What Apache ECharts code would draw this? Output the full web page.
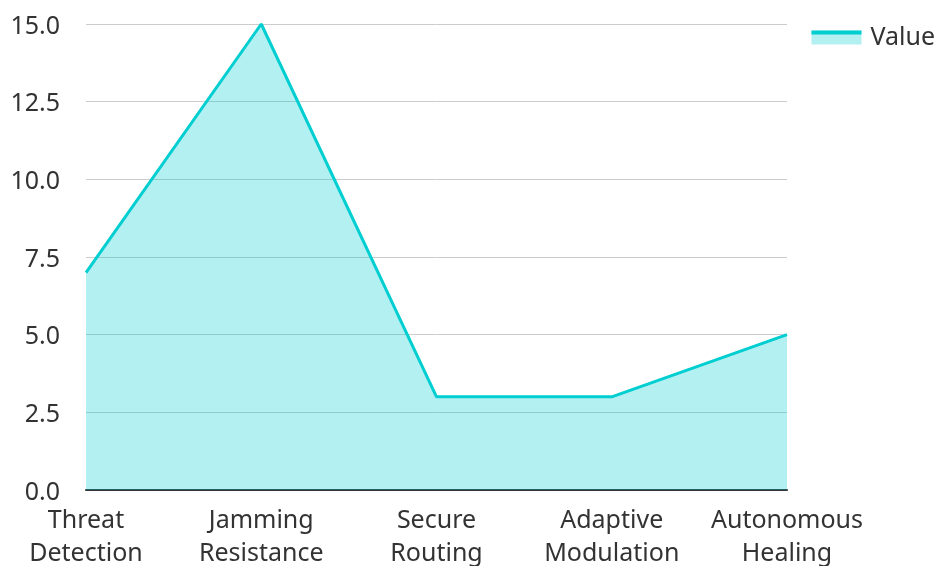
<!DOCTYPE html>
<html>
<head>
<meta charset="utf-8">
<script src="https://cdn.jsdelivr.net/npm/echarts@6/dist/echarts.min.js"></script>
<style>
  html, body { margin: 0; padding: 0; background: #fff; }
  #chart { width: 937px; height: 566px; }
</style>
</head>
<body>
<div id="chart"></div>
<script>
const categories = ['Threat\nDetection', 'Jamming\nResistance', 'Secure\nRouting', 'Adaptive\nModulation', 'Autonomous\nHealing'];
const values = [7, 15, 3, 3, 5];
const seriesName = 'Value';

const FONT = '"Noto Sans", "Open Sans", sans-serif';
const LINE_COLOR = '#00CED1';
const AREA_COLOR = 'rgba(0, 206, 209, 0.3)';

const chart = echarts.init(document.getElementById('chart'));
chart.setOption({
  animation: false,
  textStyle: { fontFamily: FONT },
  grid: {
    left: 86, right: 150, top: 24, bottom: 76,
    containLabel: false,
    outerBoundsMode: 'none'
  },
  legend: [
    {
      // filled swatch for the area
      data: [seriesName],
      top: 25,
      right: 2,
      padding: 0,
      icon: 'rect',
      itemWidth: 50,
      itemHeight: 14,
      itemStyle: { color: AREA_COLOR },
      textStyle: { fontSize: 25, color: '#333', fontFamily: FONT, padding: [0, 0, 17, 4] }
    },
    {
      // line stroke along the top edge of the swatch
      data: [seriesName],
      top: 20,
      right: 2,
      padding: 0,
      icon: 'rect',
      itemWidth: 50,
      itemHeight: 4,
      itemStyle: { color: LINE_COLOR },
      textStyle: { fontSize: 25, color: 'rgba(0,0,0,0)', fontFamily: FONT, padding: [0, 0, 17, 4] }
    }
  ],
  xAxis: {
    type: 'category',
    data: categories,
    boundaryGap: false,
    axisLine: { lineStyle: { color: '#333', width: 2 } },
    axisTick: { show: false },
    axisLabel: { fontSize: 25, color: '#333', margin: 14, lineHeight: 33, interval: 0 },
    splitLine: { show: false }
  },
  yAxis: {
    type: 'value',
    min: 0,
    max: 15,
    interval: 2.5,
    axisLine: { show: false },
    axisTick: { show: false },
    axisLabel: {
      fontSize: 25, color: '#333', margin: 26,
      formatter: v => '{v|' + v.toFixed(1) + '}',
      rich: {
        v: { fontSize: 25, color: '#333', fontFamily: FONT, padding: [5, 0, 0, 0] }
      }
    },
    splitLine: { lineStyle: { color: '#ccc', width: 1 } }
  },
  series: [{
    name: seriesName,
    type: 'line',
    data: values,
    showSymbol: false,
    symbol: 'none',
    lineStyle: { color: LINE_COLOR, width: 3 },
    itemStyle: { color: LINE_COLOR },
    areaStyle: { color: LINE_COLOR, opacity: 0.3 }
  }]
});
</script>
</body>
</html>
